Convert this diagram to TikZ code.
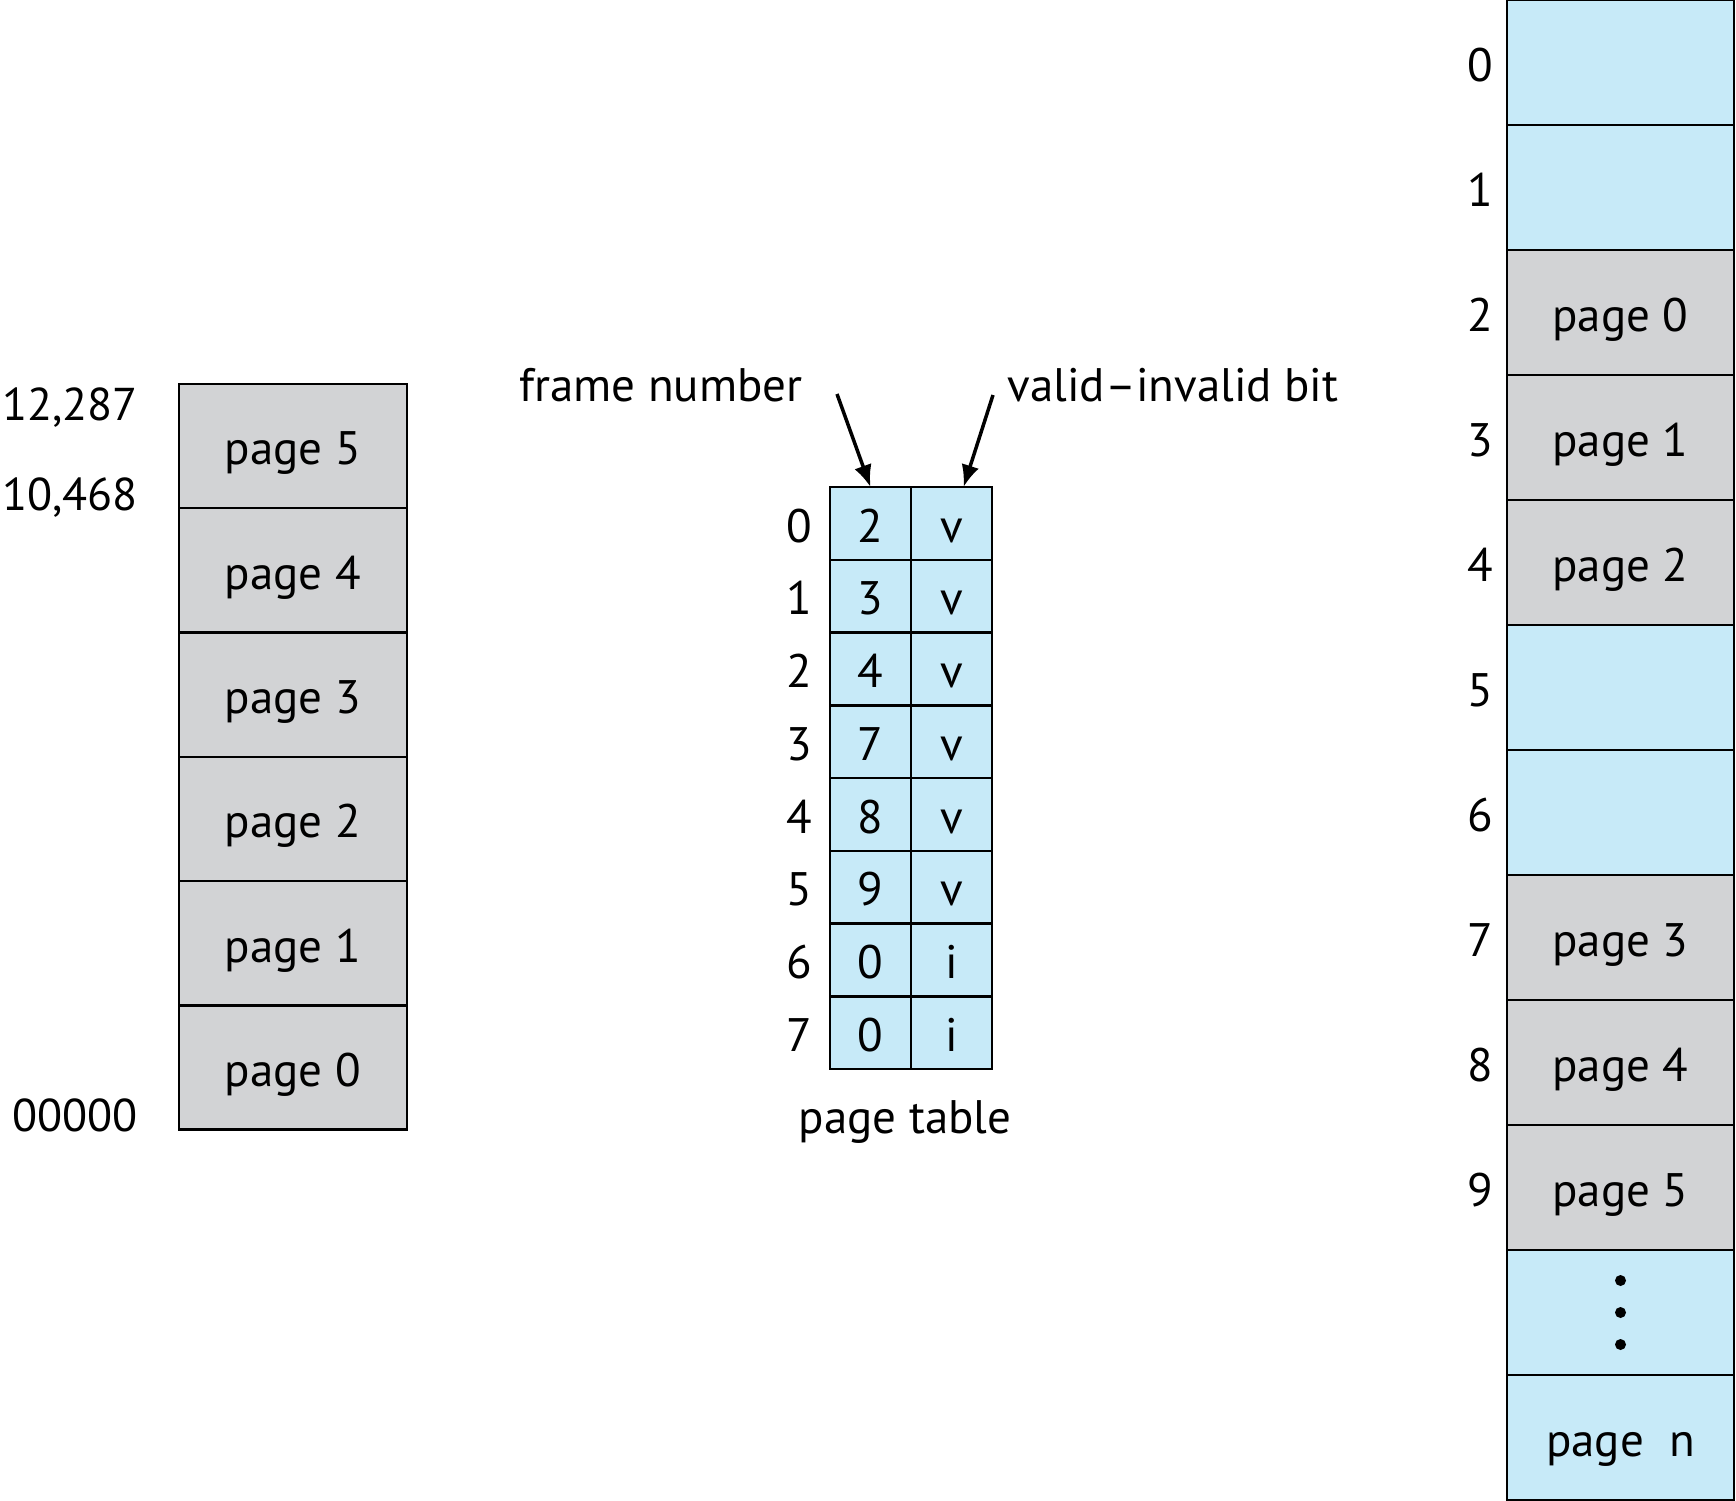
\documentclass[tikz,border=0pt]{standalone}
\usepackage{fontspec}
\setmainfont{PT Sans}
\usetikzlibrary{positioning,arrows.meta}
\definecolor{pagegray}{RGB}{210,211,213}
\definecolor{frameblue}{RGB}{199,234,248}

\begin{document}
\begin{tikzpicture}[x=1pt,y=-1pt,node distance=0pt,
  every node/.style={font=\fontsize{47}{56}\selectfont,text height=37.6pt,text depth=0pt},
  lpage/.style={rectangle,draw,line width=2.5pt,fill=pagegray,minimum width=228pt,minimum height=124.3pt,inner sep=0pt,outer sep=0pt},
  cell/.style={rectangle,draw,line width=2.5pt,fill=frameblue,minimum width=81pt,minimum height=72.75pt,inner sep=0pt,outer sep=0pt},
  frame/.style={rectangle,draw,line width=2.5pt,fill=frameblue,minimum width=227pt,minimum height=125pt,inner sep=0pt,outer sep=0pt},
  used/.style={frame,fill=pagegray},
  addr/.style={anchor=east,inner sep=0pt,font=\fontsize{46}{54}\selectfont,text height=36.8pt},
  pointer/.style={line width=3.5pt,-{Latex[length=22pt,width=18pt]}}]
\useasboundingbox (0,0) rectangle (1736,1500);

% Logical memory
\node[lpage] (lp5) at (293,446) {page 5};
\node[lpage,below=of lp5] (lp4) {page 4};
\node[lpage,below=of lp4] (lp3) {page 3};
\node[lpage,below=of lp3] (lp2) {page 2};
\node[lpage,below=of lp2] (lp1) {page 1};
\node[lpage,below=of lp1] (lp0) {page 0};

% Addresses
\node[addr] (atop) at (138,402) {12,287};
\node[addr] (alimit) at (138,492) {10,468};
\node[addr] (abase) at (138,1113) {00000};

% Page table
\node[cell] (f0) at (870.5,523.4) {2};
\node[cell,right=of f0] (v0) {v};
\node[cell,below=of f0] (f1) {3};
\node[cell,right=of f1] (v1) {v};
\node[cell,below=of f1] (f2) {4};
\node[cell,right=of f2] (v2) {v};
\node[cell,below=of f2] (f3) {7};
\node[cell,right=of f3] (v3) {v};
\node[cell,below=of f3] (f4) {8};
\node[cell,right=of f4] (v4) {v};
\node[cell,below=of f4] (f5) {9};
\node[cell,right=of f5] (v5) {v};
\node[cell,below=of f5] (f6) {0};
\node[cell,right=of f6] (v6) {i};
\node[cell,below=of f6] (f7) {0};
\node[cell,right=of f7] (v7) {i};

\node[left=14pt of f0] (i0) {0};
\node[left=14pt of f1] (i1) {1};
\node[left=14pt of f2] (i2) {2};
\node[left=14pt of f3] (i3) {3};
\node[left=14pt of f4] (i4) {4};
\node[left=14pt of f5] (i5) {5};
\node[left=14pt of f6] (i6) {6};
\node[left=14pt of f7] (i7) {7};

\node (ptable) at (905,1115) {page table};
\node (fnum) at (661,383) {frame number};
\node (vbit) at (1173,383) {valid–invalid bit};

% Arrows
\coordinate (fntail) at (837,394);
\coordinate (vbtail) at (993,395);
\draw[pointer] (fntail) -- (f0.north);
\draw[pointer] (vbtail) -- ([xshift=12pt]v0.north);

% Physical memory
\node[frame] (m0) at (1620.5,62.5) {};
\node[frame,below=of m0] (m1) {};
\node[used,below=of m1] (m2) {page 0};
\node[used,below=of m2] (m3) {page 1};
\node[used,below=of m3] (m4) {page 2};
\node[frame,below=of m4] (m5) {};
\node[frame,below=of m5] (m6) {};
\node[used,below=of m6] (m7) {page 3};
\node[used,below=of m7] (m8) {page 4};
\node[used,below=of m8] (m9) {page 5};
\node[frame,below=of m9] (mdots) {};
\node[frame,below=of mdots] (mn) {page\ \ n};

\fill (mdots.center) circle (5.5);
\fill (mdots.center) ++(0,-32) circle (5.5);
\fill (mdots.center) ++(0,32) circle (5.5);

\node[left=10pt of m0] (n0) {0};
\node[left=10pt of m1] (n1) {1};
\node[left=10pt of m2] (n2) {2};
\node[left=10pt of m3] (n3) {3};
\node[left=10pt of m4] (n4) {4};
\node[left=10pt of m5] (n5) {5};
\node[left=10pt of m6] (n6) {6};
\node[left=10pt of m7] (n7) {7};
\node[left=10pt of m8] (n8) {8};
\node[left=10pt of m9] (n9) {9};
\end{tikzpicture}
\end{document}
